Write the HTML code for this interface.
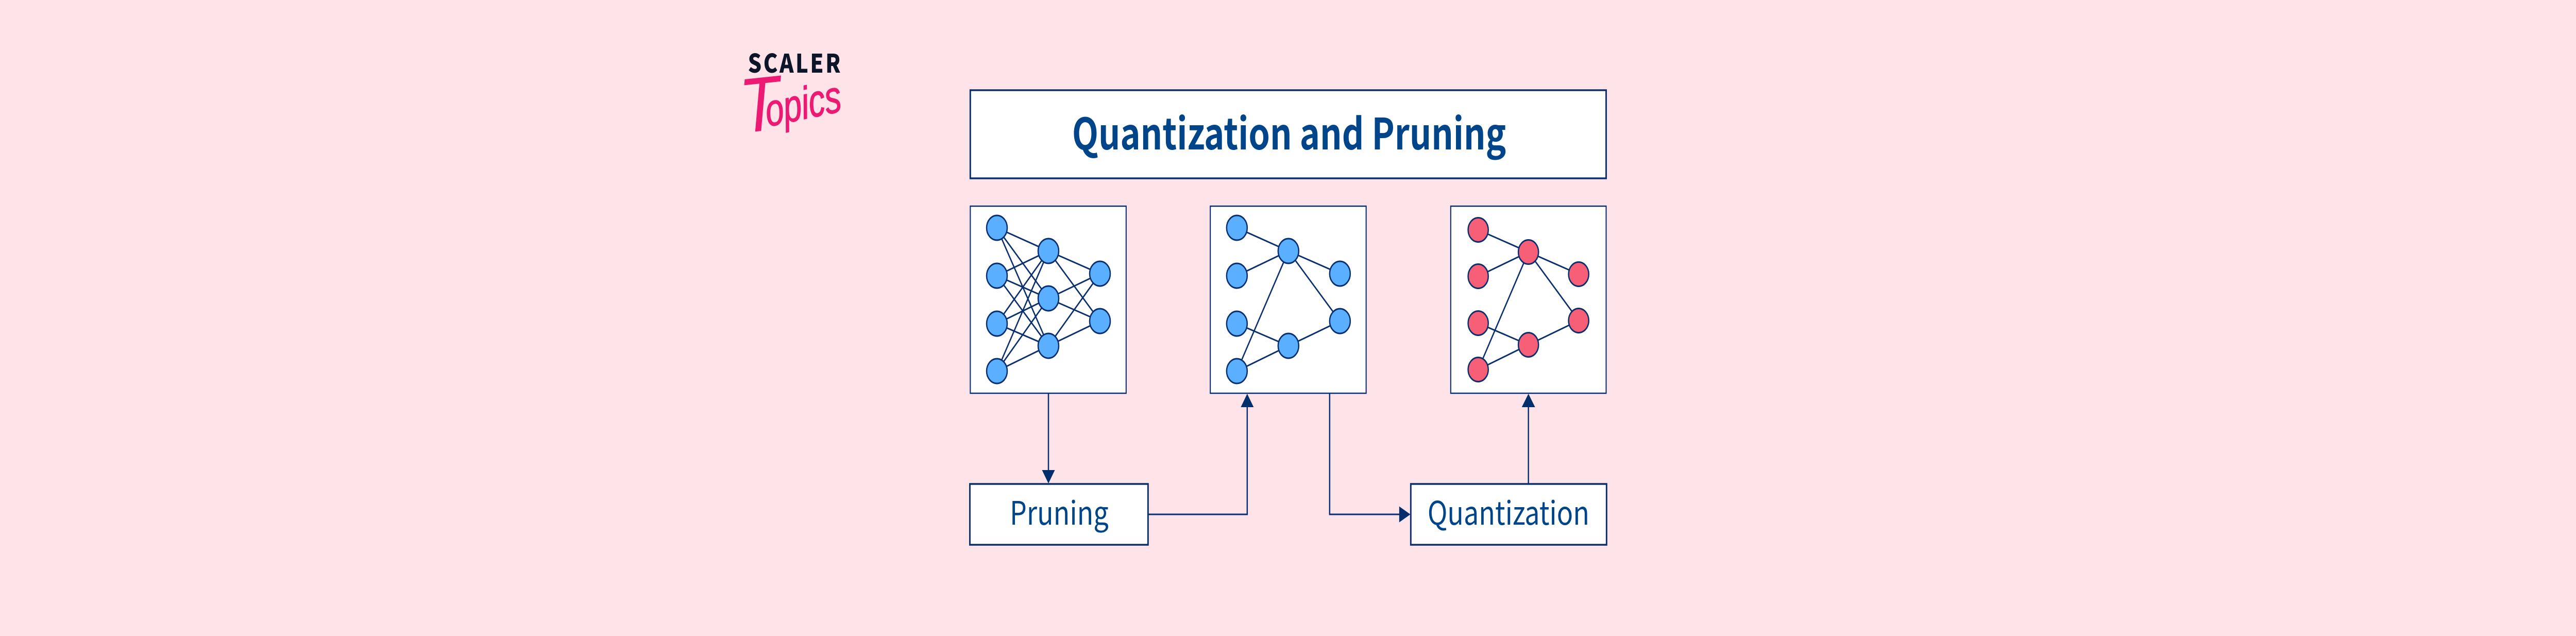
<!DOCTYPE html>
<html><head><meta charset="utf-8"><style>
html,body{margin:0;padding:0;background:#fee3e8;width:100%;height:100%;overflow:hidden}
svg{display:block;width:100vw;height:100vh}
.b{fill:#fff;stroke:#0a2f6e}
.l{stroke:#0a2f6e;stroke-width:3;fill:none}
.c circle{stroke:#0a2f6e;stroke-width:3}
.t{fill:#004589;font-family:"Noto Sans CJK JP","Liberation Sans",sans-serif}
</style></head><body>
<svg viewBox="0 0 6000 1234" preserveAspectRatio="none" xmlns="http://www.w3.org/2000/svg">
<rect width="6000" height="1234" fill="#fee3e8"/>

<!-- logo -->
<text x="1742" y="141" font-family="'Noto Sans CJK JP','Liberation Sans',sans-serif" font-weight="900" font-size="50" fill="#0d1628" textLength="216" lengthAdjust="spacing">SCALER</text>
<g fill="#ec1a72" font-family="'Liberation Sans',sans-serif" font-style="italic">
<text transform="translate(1728,258) rotate(-5)" font-size="150">T</text>
<text transform="translate(1788,246) rotate(-10)" font-size="88" textLength="178" lengthAdjust="spacingAndGlyphs" stroke="#ec1a72" stroke-width="1.5">opics</text>
</g>

<!-- title -->
<rect class="b" x="2260" y="175" width="1481" height="171" stroke-width="3.5"/>
<text class="t" x="2497" y="290" font-size="84" font-weight="700" textLength="1011" lengthAdjust="spacingAndGlyphs">Quantization and Pruning</text>

<!-- box 1 -->
<rect class="b" x="2260" y="400" width="363" height="363" stroke-width="2.5"/>
<g class="l">
<path d="M2322 442L2442 487M2322 442L2442 579M2322 442L2442 671
M2322 535L2442 487M2322 535L2442 579M2322 535L2442 671
M2322 628L2442 487M2322 628L2442 579M2322 628L2442 671
M2322 720L2442 487M2322 720L2442 579M2322 720L2442 671
M2442 487L2562 531M2442 487L2562 623
M2442 579L2562 531M2442 579L2562 623
M2442 671L2562 531M2442 671L2562 623"/>
</g>
<g class="c" fill="#5aaffe">
<circle cx="2322" cy="442" r="24"/><circle cx="2322" cy="535" r="24"/><circle cx="2322" cy="628" r="24"/><circle cx="2322" cy="720" r="24"/>
<circle cx="2442" cy="487" r="24"/><circle cx="2442" cy="579" r="24"/><circle cx="2442" cy="671" r="24"/>
<circle cx="2562" cy="531" r="24"/><circle cx="2562" cy="623" r="24"/>
</g>

<!-- box 2 -->
<rect class="b" x="2819" y="400" width="363" height="363" stroke-width="2.5"/>
<g class="l">
<path d="M2881 442L3001 487M2881 535L3001 487M2881 720L3001 487
M2881 628L3001 671M2881 720L3001 671
M3001 487L3121 531M3001 487L3121 623M3001 671L3121 623"/>
</g>
<g class="c" fill="#5aaffe">
<circle cx="2881" cy="442" r="24"/><circle cx="2881" cy="535" r="24"/><circle cx="2881" cy="628" r="24"/><circle cx="2881" cy="720" r="24"/>
<circle cx="3001" cy="487" r="24"/><circle cx="3001" cy="671" r="24"/>
<circle cx="3121" cy="531" r="24"/><circle cx="3121" cy="623" r="24"/>
</g>

<!-- box 3 -->
<rect class="b" x="3379" y="400" width="362" height="363" stroke-width="2.5"/>
<g class="l">
<path d="M3443 446L3560 489M3443 536L3560 489M3443 717L3560 489
M3443 627L3560 669M3443 717L3560 669
M3560 489L3677 532M3560 489L3677 622M3560 669L3677 622"/>
</g>
<g class="c" fill="#f65f75">
<circle cx="3443" cy="446" r="23.5"/><circle cx="3443" cy="536" r="23.5"/><circle cx="3443" cy="627" r="23.5"/><circle cx="3443" cy="717" r="23.5"/>
<circle cx="3560" cy="489" r="23.5"/><circle cx="3560" cy="669" r="23.5"/>
<circle cx="3677" cy="532" r="23.5"/><circle cx="3677" cy="622" r="23.5"/>
</g>

<!-- connectors -->
<g class="l">
<path d="M2442 763V914"/>
<path d="M2674 998H2905V788"/>
<path d="M3097 763V998H3261"/>
<path d="M3560 938V788"/>
</g>
<g fill="#002f6c">
<path d="M2427 912H2457L2442 938Z"/>
<path d="M2890 790H2920L2905 764Z"/>
<path d="M3259 982.500V1013.500L3285 998Z"/>
<path d="M3544.500 790H3575.500L3560 764Z"/>
</g>

<!-- lower boxes -->
<rect class="b" x="2259" y="939" width="415" height="118" stroke-width="3.5"/>
<text class="t" x="2352" y="1018" font-size="63" font-weight="400" textLength="230" lengthAdjust="spacingAndGlyphs">Pruning</text>
<rect class="b" x="3286" y="939" width="456" height="118" stroke-width="3.5"/>
<text class="t" x="3325" y="1018" font-size="63" font-weight="400" textLength="377" lengthAdjust="spacingAndGlyphs">Quantization</text>
</svg>
</body></html>
